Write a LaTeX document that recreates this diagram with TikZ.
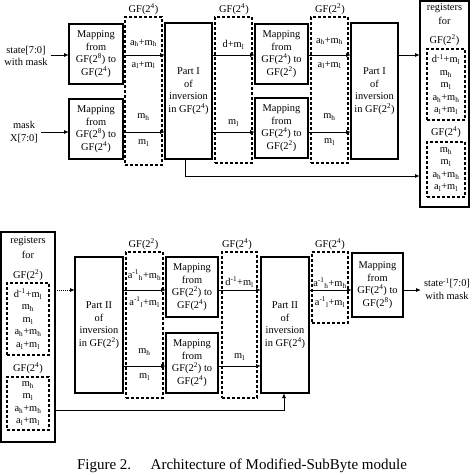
\documentclass[tikz,border=0pt]{standalone}
\usepackage{fontspec}
\setmainfont{Liberation Serif}
\usetikzlibrary{arrows.meta,calc}
\newcommand{\GFx}[1]{GF(2\textsuperscript{#1})}
\newcommand{\AHMH}{a\textsubscript{h}+m\textsubscript{h}}
\newcommand{\ALML}{a\textsubscript{l}+m\textsubscript{l}}
\newcommand{\MH}{m\textsubscript{h}}
\newcommand{\ML}{m\textsubscript{l}}
\newcommand{\DML}{d\textsuperscript{-1}+m\textsubscript{l}}
\newcommand{\AIH}{a\textsuperscript{-1}\textsubscript{h}+m\textsubscript{h}}
\newcommand{\AIL}{a\textsuperscript{-1}\textsubscript{l}+m\textsubscript{l}}
\begin{document}
\begin{tikzpicture}[x=1pt,y=-1pt,
  every node/.style={inner sep=0pt, outer sep=0pt, align=center, font=\fontsize{10.4}{12.5}\selectfont},
  blk/.style 2 args={draw, line width=1.5pt, minimum width=#1pt, minimum height=#2pt},
  dbox/.style 2 args={draw, dash pattern=on 3pt off 2pt, line width=1.2pt, minimum width=#1pt, minimum height=#2pt},
  arr/.style={-{Latex[length=5pt,width=4pt]}, line width=1pt}]
\useasboundingbox (0,0) rectangle (474,475);

% ---------- top row ----------
\node (in1) at (26,56) {state[7:0]\\with mask};
\node (in2) at (24,132) {mask\\X[7:0]};

\node[blk={54}{60}] (m1) at (96,54) {Mapping\\from\\\GFx{8} to\\\GFx{4}};
\node[blk={54}{60}] (m2) at (96,129) {Mapping\\from\\\GFx{8} to\\\GFx{4}};

\node[dbox={37}{148}] (d1) at (143.5,91) {};
\node (d1l) at (143.5,9) {\GFx{4}};
\node (d1a) at (143.5,43) {\AHMH};
\node (d1b) at (143.5,65) {\ALML};
\node (d1c) at (143.5,117) {\MH};
\node (d1d) at (143.5,143) {\ML};

\node[blk={47}{136}] (p1) at (188.5,91) {Part I\\of\\inversion\\in \GFx{4}};

\node[dbox={37}{146}] (d2) at (233.5,90) {};
\node (d2l) at (234,9) {\GFx{4}};
\node (d2a) at (233.5,45) {d+m\textsubscript{l}};
\node (d2b) at (233.5,123) {\ML};

\node[blk={53}{60}] (m3) at (281.5,54) {Mapping\\from\\\GFx{4} to\\\GFx{2}};
\node[blk={53}{60}] (m4) at (281.5,128) {Mapping\\from\\\GFx{4} to\\\GFx{2}};

\node[dbox={37}{146}] (d3) at (329.5,90) {};
\node (d3l) at (330,9) {\GFx{2}};
\node (d3a) at (329.5,41) {\AHMH};
\node (d3b) at (329.5,65) {\ALML};
\node (d3c) at (329.5,117) {\MH};
\node (d3d) at (329.5,142) {\ML};

\node[blk={47}{136}] (p2) at (374.5,91) {Part I\\of\\inversion\\in \GFx{2}};

\node[blk={49}{206}] (reg1) at (444.5,104) {};
\node (r1a) at (444.5,8) {registers};
\node (r1b) at (444.5,21) {for};
\node (r1c) at (444.5,40) {\GFx{2}};
\node[dbox={38}{71}] (rA) at (446,84.5) {\DML\\\MH\\\ML\\\AHMH\\\ALML};
\node (r1d) at (446,132) {\GFx{4}};
\node[dbox={38}{55}] (rB) at (446,169.5) {\MH\\\ML\\\AHMH\\\ALML};

\coordinate (ya) at (0,55);
\coordinate (yb) at (0,132);
\coordinate (yc) at (0,176);
\draw[arr] ([xshift=3pt]in1.east |- ya) -- (m1.west |- ya);
\draw[arr] (m1.east |- ya) -- (p1.west |- ya);
\draw[arr] (p1.east |- ya) -- (m3.west |- ya);
\draw[arr] (m3.east |- ya) -- (p2.west |- ya);
\draw[arr] (p2.east |- ya) -- (reg1.west |- ya);
\draw[arr] ([xshift=3pt]in2.east |- yb) -- (m2.west |- yb);
\draw[arr] (m2.east |- yb) -- (p1.west |- yb);
\draw[arr] (p1.east |- yb) -- (m4.west |- yb);
\draw[arr] (m4.east |- yb) -- (p2.west |- yb);
\draw[arr] ([xshift=-3pt]p1.south) |- (reg1.west |- yc);

% ---------- bottom row ----------
\node[blk={54}{210}] (reg2) at (28,337) {};
\node (r2a) at (28,241) {registers};
\node (r2b) at (28,255) {for};
\node (r2c) at (28,275) {\GFx{2}};
\node[dbox={42}{72}] (rC) at (28,319) {\DML\\\MH\\\ML\\\AHMH\\\ALML};
\node (r2d) at (28,368) {\GFx{4}};
\node[dbox={42}{53}] (rD) at (28,403.5) {\MH\\\ML\\\AHMH\\\ALML};

\node[blk={48}{136}] (p3) at (99,325) {Part II\\of\\inversion\\in \GFx{2}};

\node[dbox={37}{146}] (d4) at (144.5,325) {};
\node (d4l) at (143.5,244) {\GFx{2}};
\node (d4a) at (144.5,275) {\AIH};
\node (d4b) at (144.5,302) {\AIL};
\node (d4c) at (144.5,352) {\MH};
\node (d4d) at (144.5,377) {\ML};

\node[blk={52}{60}] (m5) at (192,287) {Mapping\\from\\\GFx{2} to\\\GFx{4}};
\node[blk={52}{60}] (m6) at (192,363) {Mapping\\from\\\GFx{2} to\\\GFx{4}};

\node[dbox={35}{146}] (d5) at (239.5,325) {};
\node (d5l) at (237,244) {\GFx{4}};
\node (d5a) at (239.5,282) {\DML};
\node (d5b) at (239.5,357) {\ML};

\node[blk={48}{136}] (p4) at (285,325) {Part II\\of\\inversion\\in \GFx{4}};

\node[dbox={36}{71}] (d6) at (330,287.5) {};
\node (d6l) at (330,244) {\GFx{4}};
\node (d6a) at (330,283) {\AIH};
\node (d6b) at (330,302) {\AIL};

\node[blk={51}{64}] (m7) at (377.5,285) {Mapping\\from\\\GFx{4} to\\\GFx{8}};

\node (out) at (447,289) {state\textsuperscript{-1}[7:0]\\with mask};

\coordinate (yd) at (0,290);
\coordinate (ye) at (0,366);
\coordinate (yf) at (0,410);
\draw[arr, densely dotted] (reg2.east |- yd) -- (p3.west |- yd);
\draw[arr] (p3.east |- yd) -- (m5.west |- yd);
\draw[arr] (p3.east |- ye) -- (m6.west |- ye);
\draw[arr] (m5.east |- yd) -- (p4.west |- yd);
\draw[arr] (m6.east |- ye) -- (p4.west |- ye);
\draw[arr] (p4.east |- yd) -- (m7.west |- yd);
\draw[arr] (m7.east |- yd) -- ([xshift=-3pt]out.west |- yd);
\draw[arr] (reg2.east |- yf) -| ([xshift=-1pt]p4.south);

\node (cap) at (242,466) {\fontsize{15}{17}\selectfont Figure 2.\hspace{1.3em}Architecture of Modified-SubByte module};
\end{tikzpicture}
\end{document}
